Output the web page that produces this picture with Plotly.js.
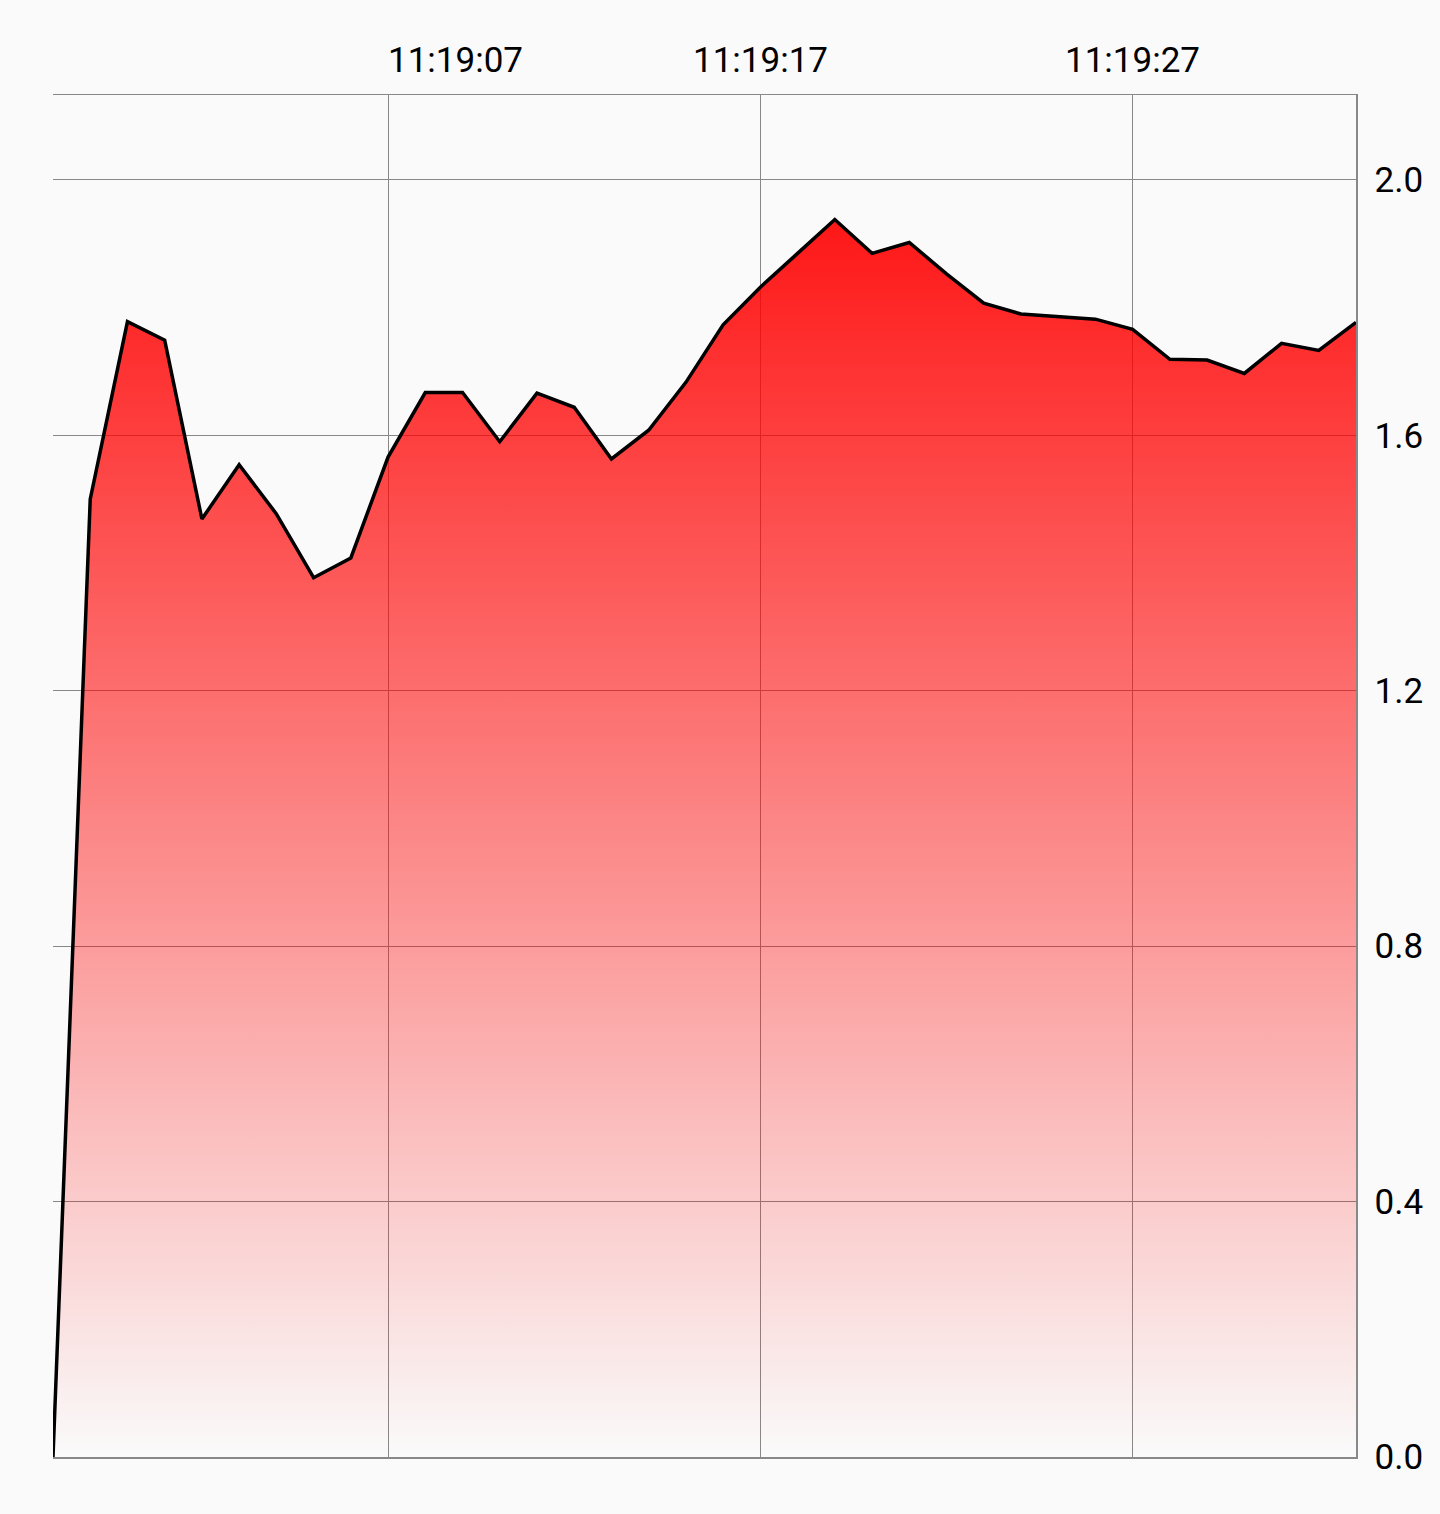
<!DOCTYPE html>
<html>
<head>
<meta charset="utf-8">
<script src="https://cdn.plot.ly/plotly-3.0.1.min.js"></script>
<style>
  html, body { margin: 0; padding: 0; background: #fafafa; }
  #chart { width: 1440px; height: 1514px; }
</style>
</head>
<body>
<div id="chart"></div>
<script>
// one sample per second
var times = [
  "2024-01-01 11:18:58", "2024-01-01 11:18:59", "2024-01-01 11:19:00", "2024-01-01 11:19:01",
  "2024-01-01 11:19:02", "2024-01-01 11:19:03", "2024-01-01 11:19:04", "2024-01-01 11:19:05",
  "2024-01-01 11:19:06", "2024-01-01 11:19:07", "2024-01-01 11:19:08", "2024-01-01 11:19:09",
  "2024-01-01 11:19:10", "2024-01-01 11:19:11", "2024-01-01 11:19:12", "2024-01-01 11:19:13",
  "2024-01-01 11:19:14", "2024-01-01 11:19:15", "2024-01-01 11:19:16", "2024-01-01 11:19:17",
  "2024-01-01 11:19:18", "2024-01-01 11:19:19", "2024-01-01 11:19:20", "2024-01-01 11:19:21",
  "2024-01-01 11:19:22", "2024-01-01 11:19:23", "2024-01-01 11:19:24", "2024-01-01 11:19:25",
  "2024-01-01 11:19:26", "2024-01-01 11:19:27", "2024-01-01 11:19:28", "2024-01-01 11:19:29",
  "2024-01-01 11:19:30", "2024-01-01 11:19:31", "2024-01-01 11:19:32", "2024-01-01 11:19:33"
];
var values = [
  0, 1.500, 1.778, 1.749, 1.469, 1.554, 1.477, 1.377, 1.408,
  1.566, 1.667, 1.667, 1.590, 1.666, 1.644, 1.563, 1.608, 1.683, 1.773,
  1.832, 1.885, 1.938, 1.885, 1.902, 1.853, 1.807, 1.790, 1.786, 1.782,
  1.766, 1.719, 1.718, 1.697, 1.744, 1.733, 1.777
];
var xTicks = ["2024-01-01 11:19:07", "2024-01-01 11:19:17", "2024-01-01 11:19:27"];
var xTickText = ["11:19:07", "11:19:17", "11:19:27"];
var yMax = 2.133;

var trace = {
  type: "scatter",
  mode: "lines",
  x: times,
  y: values,
  fill: "tozeroy",
  fillgradient: {
    type: "vertical",
    start: 0,
    stop: yMax,
    colorscale: [[0, "rgba(255,0,0,0)"], [1, "rgba(255,0,0,1)"]]
  },
  line: {color: "#000000", width: 3.5},
  hoverinfo: "skip"
};

// first label starts at its tick, the others are centred on theirs
var labels = xTicks.map(function (t, i) {
  return {
    x: t, y: 1, xref: "x", yref: "paper",
    text: xTickText[i],
    showarrow: false,
    xanchor: i === 0 ? "left" : "center",
    yanchor: "bottom",
    xshift: i === 0 ? -2 : 0,
    yshift: 12,
    font: {family: "Roboto", size: 35, color: "#000000"}
  };
});

var layout = {
  width: 1440,
  height: 1514,
  paper_bgcolor: "#fafafa",
  plot_bgcolor: "#fafafa",
  showlegend: false,
  margin: {l: 53, r: 84, t: 95, b: 57},
  font: {family: "Roboto", size: 34, color: "#000000"},
  xaxis: {
    type: "date",
    side: "top",
    range: ["2024-01-01 11:18:58", "2024-01-01 11:19:33"],
    tickvals: xTicks,
    showticklabels: false,
    ticks: "",
    showgrid: true,
    gridcolor: "#888888",
    gridwidth: 1,
    showline: true,
    mirror: true,
    linecolor: "#888888",
    linewidth: 1.5,
    zeroline: false
  },
  yaxis: {
    side: "right",
    range: [0, yMax],
    tick0: 0,
    dtick: 0.4,
    tickformat: ".1f",
    ticks: "",
    ticklabelstandoff: 10,
    tickfont: {family: "Roboto", size: 35, color: "#000000"},
    showgrid: true,
    gridcolor: "#888888",
    gridwidth: 1,
    showline: true,
    linecolor: "#888888",
    linewidth: 1.5,
    zeroline: false
  },
  annotations: labels
};

Plotly.newPlot("chart", [trace], layout, {staticPlot: true});
</script>
</body>
</html>
